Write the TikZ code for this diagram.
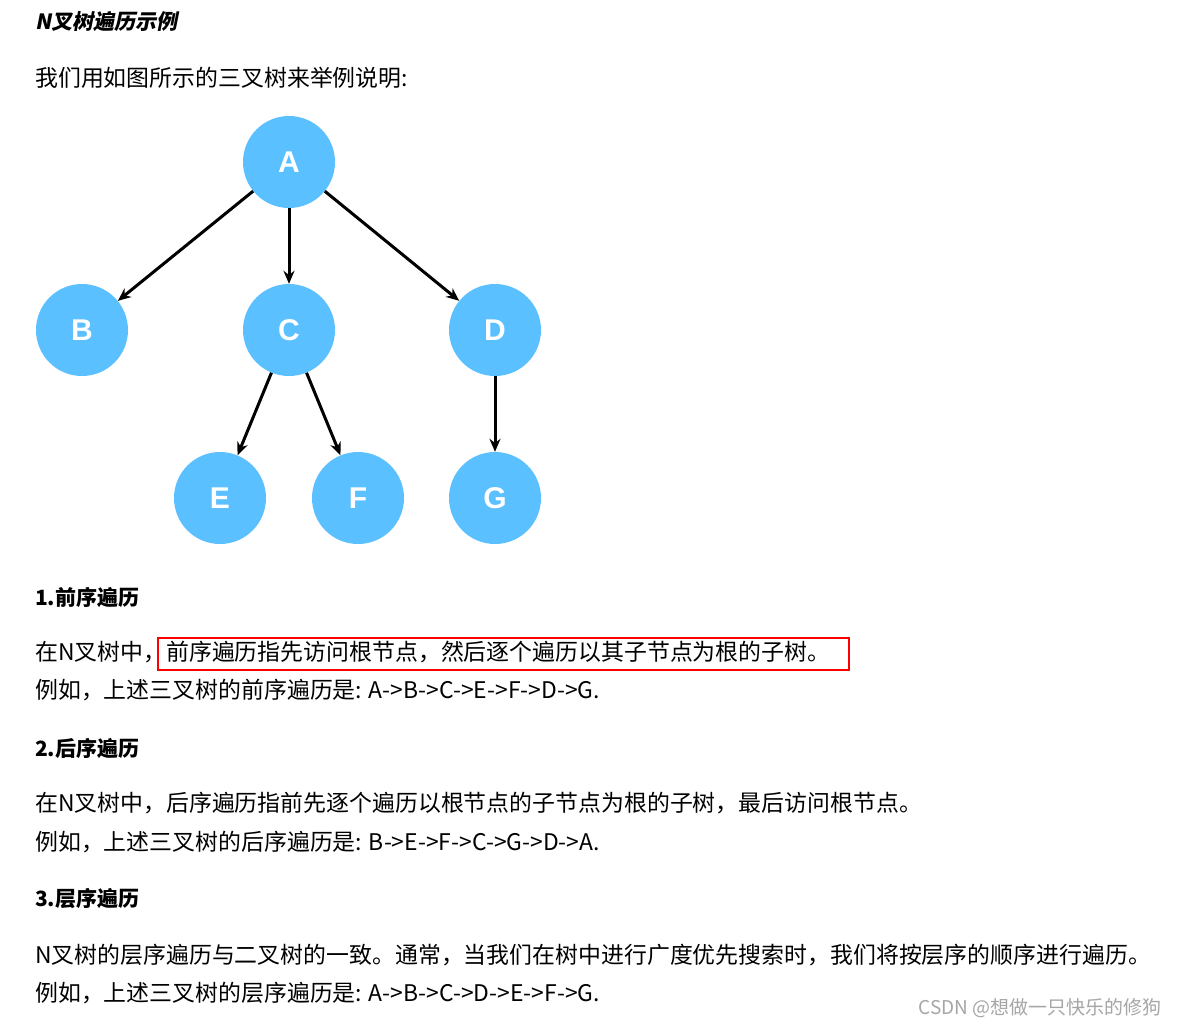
\documentclass[tikz,border=0pt]{standalone}
\usepackage{fontspec}
\setmainfont{Liberation Sans}
\newfontfamily\cjk{Noto Sans CJK SC}
\newfontfamily\cjkit{Noto Sans CJK SC}[FakeSlant=0.2]
\usetikzlibrary{arrows.meta}
\definecolor{nodeblue}{HTML}{5BC0FF}
\begin{document}
\begin{tikzpicture}[x=1pt,y=-1pt,
  tn/.style={circle,fill=nodeblue,minimum size=92pt,inner sep=0pt,text=white,font=\fontsize{30}{30}\selectfont\bfseries},
  ed/.style={draw=black,line width=3pt,-{Stealth[length=13pt,width=11pt]}},
  tx/.style={anchor=west,inner sep=0pt,font=\cjk\fontsize{22.9}{22}\selectfont},
  hd/.style={anchor=west,inner sep=0pt,font=\cjk\fontsize{21}{21}\selectfont\bfseries}]
\useasboundingbox[fill=white] (0,0) rectangle (1177,1029);
\node[tn] (A) at (289,162) {A};
\node[tn] (B) at (82,330) {B};
\node[tn] (C) at (289,330) {C};
\node[tn] (D) at (495,330) {D};
\node[tn] (E) at (220,498) {E};
\node[tn] (F) at (358,498) {F};
\node[tn] (G) at (495,498) {G};
\draw[ed] (A) -- (B);
\draw[ed] (A) -- (C);
\draw[ed] (A) -- (D);
\draw[ed] (C) -- (E);
\draw[ed] (C) -- (F);
\draw[ed] (D) -- (G);
\node[hd,font=\cjkit\fontsize{21}{21}\selectfont\bfseries] (t0) at (35,22) {N叉树遍历示例};
\node[tx] (t1) at (35,78) {我们用如图所示的三叉树来举例说明:};
\node[hd] (h1) at (35,597) {1.前序遍历};
\node[tx] (t2) at (35,652) {在N叉树中，前序遍历指先访问根节点，然后逐个遍历以其子节点为根的子树。};
\node[draw=red,line width=1.5pt,anchor=north west,minimum width=691pt,minimum height=32pt,inner sep=0pt] (box) at (157,637) {};
\node[tx] (t3) at (35,690) {例如，上述三叉树的前序遍历是: A->B->C->E->F->D->G.};
\node[hd] (h2) at (35,748) {2.后序遍历};
\node[tx] (t4) at (35,803) {在N叉树中，后序遍历指前先逐个遍历以根节点的子节点为根的子树，最后访问根节点。};
\node[tx] (t5) at (35,842) {例如，上述三叉树的后序遍历是: B->E->F->C->G->D->A.};
\node[hd] (h3) at (35,899) {3.层序遍历};
\node[tx] (t6) at (35,955) {N叉树的层序遍历与二叉树的一致。通常，当我们在树中进行广度优先搜索时，我们将按层序的顺序进行遍历。};
\node[tx] (t7) at (35,993) {例如，上述三叉树的层序遍历是: A->B->C->D->E->F->G.};
\node[anchor=east,inner sep=0pt,text=gray!70,font=\cjk\fontsize{19}{19}\selectfont] (wm) at (1162,1008) {CSDN @想做一只快乐的修狗};
\end{tikzpicture}
\end{document}
